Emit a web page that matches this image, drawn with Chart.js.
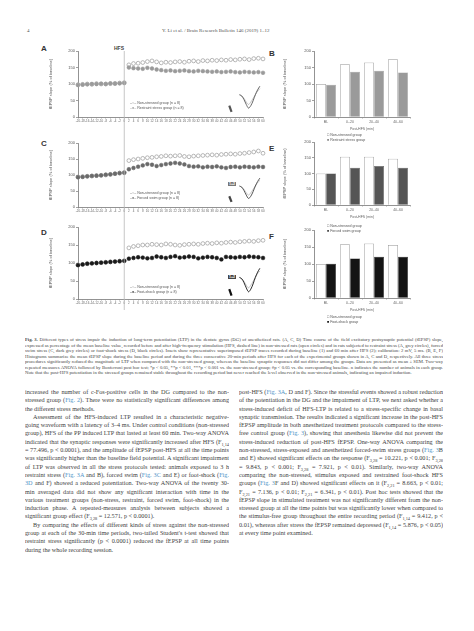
<!DOCTYPE html>
<html>
<head>
<meta charset="utf-8">
<script src="https://cdn.jsdelivr.net/npm/chart.js@4.4.0/dist/chart.umd.min.js"></script>
<style>
html, body { margin: 0; padding: 0; background: #fff; }
body { width: 474px; height: 631px; position: relative; overflow: hidden; font-family: "Liberation Serif", serif; color: #3a3a3a; }
canvas { position: absolute; }
.t { position: absolute; white-space: nowrap; }
.lbl { position: absolute; font-family: "Liberation Sans", sans-serif; font-weight: bold; font-size: 8px; color: #333; }
.leg { position: absolute; font-family: "Liberation Sans", sans-serif; font-size: 3.6px; line-height: 5px; color: #555; white-space: nowrap; }
.tag { position: absolute; font-family: "Liberation Sans", sans-serif; font-weight: bold; font-size: 3.5px; line-height: 4px; color: #fff; background: #777; padding: 0 1px; }
.cap { position: absolute; left: 25px; top: 337px; width: 418px; height: 50px; overflow: hidden; font-size: 4.7px; line-height: 5.5px; text-align: justify; color: #444; }
.col { position: absolute; top: 388px; width: 204px; height: 196px; overflow: hidden; font-size: 6.2px; line-height: 8.3px; text-align: justify; color: #3e3e3e; }
.col p { margin: 0; text-indent: 8px; }
.col p.first { text-indent: 0; }
sub { line-height: 0; font-size: 70%; }
.ref { color: #4f93c8; }
</style>
</head>
<body>

<div class="t" style="left:27px;top:28px;font-size:5px;color:#555;">4</div>
<div class="t" style="left:162px;top:28px;font-size:5px;color:#555;">Y. Li et al. / Brain Research Bulletin 146 (2019) 1–12</div>

<div class="lbl" style="left:41px;top:44px;">A</div>
<div class="lbl" style="left:269px;top:49px;">B</div>
<div class="lbl" style="left:41px;top:139px;">C</div>
<div class="lbl" style="left:269px;top:144px;">E</div>
<div class="lbl" style="left:41px;top:228px;">D</div>
<div class="lbl" style="left:269px;top:232px;">F</div>
<div class="t" style="left:114px;top:45px;font-family:'Liberation Sans',sans-serif;font-weight:bold;font-size:5px;color:#444;">HFS</div>

<canvas id="chartA" width="220" height="84" style="left:48px;top:44px;"></canvas>
<canvas id="chartC" width="220" height="90" style="left:48px;top:128px;"></canvas>
<canvas id="chartD" width="220" height="92" style="left:48px;top:218px;"></canvas>

<canvas id="chartB" width="133" height="87" style="left:282px;top:44px;"></canvas>
<canvas id="chartE" width="133" height="84" style="left:282px;top:135px;"></canvas>
<canvas id="chartF" width="133" height="89" style="left:282px;top:223px;"></canvas>

<canvas id="insetA" width="36" height="30" style="left:226px;top:84px;"></canvas>
<canvas id="insetC" width="36" height="28" style="left:226px;top:176px;"></canvas>
<canvas id="insetD" width="36" height="32" style="left:226px;top:266px;"></canvas>
<div class="tag" style="left:228px;top:182px;">1+2</div>
<div class="tag" style="left:228px;top:275px;background:#444;">1+2</div>

<div class="leg" style="left:130px;top:101px;">–○– Non-stressed group (n = 8)<br><span style="color:#888">–●–</span> Restraint stress group (n = 8)</div>
<div class="leg" style="left:130px;top:191px;">–○– Non-stressed group (n = 8)<br><span style="color:#555">–●–</span> Forced swim group (n = 8)</div>
<div class="leg" style="left:130px;top:285px;">–○– Non-stressed group (n = 8)<br><span style="color:#111">–●–</span> Foot-shock group (n = 8)</div>

<div class="leg" style="left:327px;top:133px;">□ Non-stressed group<br><span style="color:#888">■</span> Restraint stress group</div>
<div class="leg" style="left:327px;top:224px;">□ Non-stressed group<br><span style="color:#444">■</span> Forced swim group</div>
<div class="leg" style="left:327px;top:315px;">□ Non-stressed group<br><span style="color:#111">■</span> Foot-shock group</div>

<div class="cap"><b>Fig. 3.</b> Different types of stress impair the induction of long-term potentiation (LTP) in the dentate gyrus (DG) of anesthetized rats. (A, C, D) Time course of the field excitatory postsynaptic potential (fEPSP) slope, expressed as percentage of the mean baseline value, recorded before and after high-frequency stimulation (HFS, dashed line) in non-stressed rats (open circles) and in rats subjected to restraint stress (A, grey circles), forced swim stress (C, dark grey circles) or foot-shock stress (D, black circles). Insets show representative superimposed fEPSP traces recorded during baseline (1) and 60 min after HFS (2); calibration: 2 mV, 5 ms. (B, E, F) Histograms summarize the mean fEPSP slope during the baseline period and during the three consecutive 20-min periods after HFS for each of the experimental groups shown in A, C and D, respectively. All three stress procedures significantly reduced the magnitude of LTP when compared with the non-stressed group, whereas the baseline synaptic responses did not differ among the groups. Data are presented as mean ± SEM. Two-way repeated measures ANOVA followed by Bonferroni post hoc test; *p &lt; 0.05, **p &lt; 0.01, ***p &lt; 0.001 vs. the non-stressed group; #p &lt; 0.05 vs. the corresponding baseline. n indicates the number of animals in each group. Note that the post-HFS potentiation in the stressed groups remained stable throughout the recording period but never reached the level observed in the non-stressed animals, indicating an impaired induction.</div>

<div class="col" style="left:25px;">
<p class="first">increased the number of c-Fos-positive cells in the DG compared to the non-stressed group (<span class="ref">Fig. 2</span>). There were no statistically significant differences among the different stress methods.</p>
<p>Assessment of the HFS-induced LTP resulted in a characteristic negative-going waveform with a latency of 3–4 ms. Under control conditions (non-stressed group), HFS of the PP induced LTP that lasted at least 60 min. Two-way ANOVA indicated that the synaptic responses were significantly increased after HFS (F<sub>1,14</sub> = 77.496, p &lt; 0.0001), and the amplitude of fEPSP post-HFS at all the time points was significantly higher than the baseline field potential. A significant impairment of LTP was observed in all the stress protocols tested: animals exposed to 3 h restraint stress (<span class="ref">Fig. 3A</span> and B), forced swim (<span class="ref">Fig. 3C</span> and E) or foot-shock (<span class="ref">Fig. 3D</span> and F) showed a reduced potentiation. Two-way ANOVA of the twenty 30-min averaged data did not show any significant interaction with time in the various treatment groups (non-stress, restraint, forced swim, foot-shock) in the induction phase. A repeated-measures analysis between subjects showed a significant group effect (F<sub>3,28</sub> = 12.571, p &lt; 0.0001).</p>
<p>By comparing the effects of different kinds of stress against the non-stressed group at each of the 30-min time periods, two-tailed Student's t-test showed that restraint stress significantly (p &lt; 0.0001) reduced the fEPSP at all time points during the whole recording session.</p>
</div>

<div class="col" style="left:239px;">
<p class="first">post-HFS (<span class="ref">Fig. 3A</span>, D and F). Since the stressful events showed a robust reduction of the potentiation in the DG and the impairment of LTP, we next asked whether a stress-induced deficit of HFS-LTP is related to a stress-specific change in basal synaptic transmission. The results indicated a significant increase in the post-HFS fEPSP amplitude in both anesthetized treatment protocols compared to the stress-free control group (<span class="ref">Fig. 3</span>), showing that anesthesia likewise did not prevent the stress-induced reduction of post-HFS fEPSP. One-way ANOVA comparing the non-stressed, stress-exposed and anesthetized forced-swim stress groups (<span class="ref">Fig. 3</span>B and E) showed significant effects on the response (F<sub>3,28</sub> = 10.221, p &lt; 0.001; F<sub>3,28</sub> = 9.843, p &lt; 0.001; F<sub>3,28</sub> = 7.921, p &lt; 0.01). Similarly, two-way ANOVA comparing the non-stressed, stimulus exposed and restrained foot-shock HFS groups (<span class="ref">Fig. 3</span>F and D) showed significant effects on it (F<sub>2,21</sub> = 8.663, p &lt; 0.01; F<sub>2,21</sub> = 7.136, p &lt; 0.01; F<sub>2,21</sub> = 6.341, p &lt; 0.01). Post hoc tests showed that the fEPSP slope in stimulated treatment was not significantly different from the non-stressed group at all the time points but was significantly lower when compared to the stimulus-free group throughout the entire recording period (F<sub>1,14</sub> = 9.412, p &lt; 0.01), whereas after stress the fEPSP remained depressed (F<sub>1,14</sub> = 5.876, p &lt; 0.05) at every time point examined.</p>
</div>

<script>
// eje de tiempo (min) para los registros de fEPSP
const timeLabels = ['-20','-18','-16','-14','-12','-10','-8','-6','-4','-2','0',
  '2','4','6','8','10','12','14','16','18','20','22','24','26','28','30',
  '32','34','36','38','40','42','44','46','48','50','52','54','56','58','60'];

// panel A: no estresados vs estrés por restricción
const aControl = [98,99,100,99,101,100,100,101,102,103,104,
  158,162,163,165,168,170,167,164,166,165,167,168,166,169,170,168,171,170,172,171,173,172,174,173,175,176,174,177,178,176];
const aStress = [97,98,99,100,100,101,100,102,101,102,103,
  150,148,147,146,149,147,144,142,140,141,139,140,141,139,138,140,139,138,137,138,136,137,138,136,135,137,136,135,136,134];

// panel C: no estresados vs nado forzado
const cControl = [94,95,96,97,98,99,100,102,104,106,108,
  145,148,150,152,154,155,157,158,160,159,160,161,158,157,159,160,161,162,163,162,164,165,166,165,167,168,170,172,175,168];
const cStress = [93,94,96,97,98,99,101,102,104,106,107,
  118,122,126,130,134,132,128,131,134,136,138,136,133,128,126,127,124,126,125,127,124,122,125,126,124,126,125,124,126,125];

// panel D: no estresados vs choque eléctrico
const dControl = [95,96,98,99,100,101,102,103,104,105,106,
  142,146,148,150,150,152,151,150,153,152,150,149,151,152,153,152,154,155,154,156,155,157,158,157,159,160,161,160,162,163];
const dStress = [94,96,98,99,100,101,102,103,104,105,106,
  112,114,116,115,113,114,118,116,114,117,119,115,116,118,117,113,115,117,116,114,110,117,116,115,117,116,118,117,116,114];

// barras: línea base y tres periodos post-HFS
const barLabels = ['BL', '0–20', '20–40', '40–60'];
const bControl = [100, 160, 165, 175];
const bStress = [98, 137, 140, 135];
const eControl = [100, 153, 153, 147];
const eStress = [100, 118, 124, 118];
const fControl = [100, 158, 160, 156];
const fStress = [101, 116, 121, 121];

// trazos representativos (insertos)
const traceTime = [11,13,15,17,19,21,23,25,27,29];
const tracePre  = [0,-1,-3,-6,-8,-6,-3,0,3,5];
const tracePost = [0,-1,-4,-8,-11,-9,-5,0,4,7];
const artTime = [2, 4];
const artValue = [-9, -14];

const FONT = 'Liberation Sans';

// línea vertical del HFS
const hfsLine = {
  id: 'hfsLine',
  afterDatasetsDraw(chart, args, opts) {
    const x = chart.scales.x.getPixelForValue(timeLabels.indexOf('0'));
    const ctx = chart.ctx;
    ctx.save();
    ctx.strokeStyle = '#b9b9b9';
    ctx.lineWidth = 0.8;
    ctx.beginPath();
    ctx.moveTo(x, opts.fromTop ? 0 : chart.chartArea.top);
    ctx.lineTo(x, chart.height);
    ctx.stroke();
    ctx.restore();
  }
};

function ejeY(ancho) {
  return {
    min: 0, max: 200,
    ticks: { stepSize: 50, font: { size: 4, family: FONT }, color: '#555', padding: 1 },
    grid: { drawOnChartArea: false, tickLength: 2, color: '#777', lineWidth: 0.7 },
    border: { color: '#777', width: 0.8 },
    title: { display: true, text: 'fEPSP slope (% of baseline)', font: { size: 4, family: FONT }, color: '#555', padding: 0 },
    afterFit(s) { s.width = ancho; }
  };
}

function graficoLinea(id, control, estres, colorEstres, padTop, fromTop) {
  return new Chart(document.getElementById(id), {
    type: 'line',
    data: {
      labels: timeLabels,
      datasets: [
        { data: estres, showLine: false, pointRadius: 1.9, pointBackgroundColor: colorEstres, pointBorderColor: colorEstres, pointBorderWidth: 0.5 },
        { data: control, showLine: false, pointRadius: 1.9, pointBackgroundColor: '#fff', pointBorderColor: '#9a9a9a', pointBorderWidth: 0.7 }
      ]
    },
    options: {
      responsive: false,
      animation: false,
      layout: { padding: { top: padTop, right: 5, left: 0, bottom: 0 } },
      plugins: { legend: { display: false }, tooltip: { enabled: false }, hfsLine: { fromTop: fromTop } },
      scales: {
        x: {
          ticks: { font: { size: 3, family: FONT }, color: '#666', autoSkip: false, maxRotation: 0, padding: 0.5 },
          grid: { drawOnChartArea: false, tickLength: 1.5, color: '#777', lineWidth: 0.6 },
          border: { color: '#777', width: 0.8 },
          afterFit(s) { s.height = 11; }
        },
        y: ejeY(30)
      }
    },
    plugins: [hfsLine]
  });
}

function graficoBarras(id, control, estres, colorEstres, padTop) {
  return new Chart(document.getElementById(id), {
    type: 'bar',
    data: {
      labels: barLabels,
      datasets: [
        { data: control, backgroundColor: '#fff', borderColor: '#9a9a9a', borderWidth: 0.7 },
        { data: estres, backgroundColor: colorEstres, borderColor: colorEstres, borderWidth: 0.5 }
      ]
    },
    options: {
      responsive: false,
      animation: false,
      layout: { padding: { top: padTop, right: 5, left: 0, bottom: 0 } },
      plugins: { legend: { display: false }, tooltip: { enabled: false } },
      datasets: { bar: { categoryPercentage: 0.84, barPercentage: 0.98 } },
      scales: {
        x: {
          ticks: { font: { size: 3.5, family: FONT }, color: '#666', padding: 1 },
          grid: { drawOnChartArea: false, tickLength: 1.5, color: '#777', lineWidth: 0.6 },
          border: { color: '#777', width: 0.8 },
          title: { display: true, text: 'Post-HFS (min)', font: { size: 3.5, family: FONT }, color: '#666', padding: 0 },
          afterFit(s) { s.height = 14; }
        },
        y: ejeY(32)
      }
    }
  });
}

function puntos(xs, ys) {
  return xs.map((x, i) => ({ x: x, y: ys[i] }));
}

function inserto(id, colorPost) {
  return new Chart(document.getElementById(id), {
    type: 'line',
    data: {
      datasets: [
        { data: puntos(artTime, artValue), borderColor: colorPost, borderWidth: 2.2, pointRadius: 0 },
        { data: puntos(traceTime, tracePost), borderColor: colorPost, borderWidth: 0.9, pointRadius: 0, tension: 0.3 },
        { data: puntos(traceTime, tracePre), borderColor: '#aaa', borderWidth: 0.7, pointRadius: 0, tension: 0.3 }
      ]
    },
    options: {
      responsive: false,
      animation: false,
      layout: { padding: 1 },
      plugins: { legend: { display: false }, tooltip: { enabled: false } },
      scales: { x: { type: 'linear', display: false, min: 0, max: 30 }, y: { display: false, min: -15, max: 8 } }
    }
  });
}

graficoLinea('chartA', aControl, aStress, '#9a9a9a', 7, false);
graficoLinea('chartC', cControl, cStress, '#6a6a6a', 15, true);
graficoLinea('chartD', dControl, dStress, '#1a1a1a', 9, true);

graficoBarras('chartB', bControl, bStress, '#9a9a9a', 7);
graficoBarras('chartE', eControl, eStress, '#555', 7);
graficoBarras('chartF', fControl, fStress, '#141414', 7);

inserto('insetA', '#555');
inserto('insetC', '#444');
inserto('insetD', '#111');
</script>
</body>
</html>
